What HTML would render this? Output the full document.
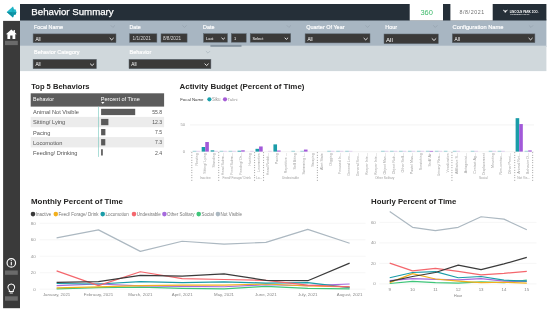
<!DOCTYPE html>
<html><head><meta charset="utf-8"><title>Behavior Summary</title>
<style>
html,body{margin:0;padding:0;}
body{width:550px;height:312px;position:relative;overflow:hidden;background:#fff;font-family:"Liberation Sans",sans-serif;}
.a{position:absolute;}
.t{position:absolute;white-space:nowrap;line-height:1;}
.dd{position:absolute;background:#3b3a39;box-shadow:0 0 0 0.5px #59636c;}
svg{position:absolute;left:0;top:0;overflow:visible;filter:blur(0.3px);}
</style></head><body>

<svg width="550" height="312" viewBox="0 0 550 312" font-family='"Liberation Sans", sans-serif'>
<rect x="20" y="19" width="526.4" height="28" fill="#a8b6c2"/>
<rect x="20" y="45.7" width="526.4" height="25.4" fill="#d0d8dc"/>
<rect x="20" y="4" width="526.4" height="16.5" fill="#252f38"/>
<rect x="409.7" y="0" width="33.3" height="20.5" fill="#fff"/>
<rect x="450.4" y="0" width="42.3" height="20.5" fill="#fff"/>
<path d="M503.1 9.6 L504.4 10.4 L506.3 10.4 L507.6 9.6 L507.2 10.9 L506.3 11.2 L506 12.6 L504.7 12.6 L504.4 11.2 L503.5 10.9 Z" fill="#fff"/>
<rect x="210.4" y="44.9" width="31.1" height="1.9" fill="#8593a0"/>
<rect x="3.1" y="20.9" width="16.9" height="287.3" fill="#3a3a3a"/>
<rect x="5" y="40.8" width="12.8" height="4.3" fill="#6a6a6a"/>
<rect x="5" y="270.5" width="12.8" height="4.3" fill="#6a6a6a"/>
<rect x="5" y="296.3" width="12.8" height="4.4" fill="#6a6a6a"/>
<path d="M110.80 25.35 L112.90 27.45 L115.00 25.35" fill="none" stroke="#919eaa" stroke-width="0.65"/>
<rect x="33.1" y="33.9" width="82.9" height="8.8" fill="#3b3a39" stroke="#5d6872" stroke-width="0.5"/>
<path d="M109.70 37.95 L111.70 39.85 L113.70 37.95" fill="none" stroke="#fff" stroke-width="0.85"/>
<path d="M182.40 25.35 L184.50 27.45 L186.60 25.35" fill="none" stroke="#919eaa" stroke-width="0.65"/>
<rect x="129.6" y="33.8" width="27.3" height="8.4" fill="#3b3a39" stroke="#5d6872" stroke-width="0.5"/>
<rect x="161" y="33.8" width="26.1" height="8.4" fill="#3b3a39" stroke="#5d6872" stroke-width="0.5"/>
<path d="M286.80 25.35 L288.90 27.45 L291.00 25.35" fill="none" stroke="#919eaa" stroke-width="0.65"/>
<rect x="203.5" y="33.7" width="24.0" height="8.5" fill="#3b3a39" stroke="#5d6872" stroke-width="0.5"/>
<path d="M221.50 37.74 L223.20 39.36 L224.90 37.74" fill="none" stroke="#fff" stroke-width="0.85"/>
<rect x="231.3" y="33.7" width="14.9" height="8.5" fill="#3b3a39" stroke="#5d6872" stroke-width="0.5"/>
<rect x="250.2" y="33.7" width="40.5" height="8.5" fill="#3b3a39" stroke="#5d6872" stroke-width="0.5"/>
<path d="M284.70 37.74 L286.40 39.36 L288.10 37.74" fill="none" stroke="#fff" stroke-width="0.85"/>
<path d="M365.50 25.35 L367.60 27.45 L369.70 25.35" fill="none" stroke="#919eaa" stroke-width="0.65"/>
<rect x="305.1" y="33.8" width="64.9" height="9.1" fill="#3b3a39" stroke="#5d6872" stroke-width="0.5"/>
<path d="M363.70 38.00 L365.70 39.90 L367.70 38.00" fill="none" stroke="#fff" stroke-width="0.85"/>
<path d="M433.20 25.35 L435.30 27.45 L437.40 25.35" fill="none" stroke="#919eaa" stroke-width="0.65"/>
<rect x="384" y="34" width="54.3" height="9.7" fill="#3b3a39" stroke="#5d6872" stroke-width="0.5"/>
<path d="M431.80 38.40 L434.00 40.50 L436.20 38.40" fill="none" stroke="#fff" stroke-width="0.85"/>
<path d="M528.90 25.35 L531.00 27.45 L533.10 25.35" fill="none" stroke="#919eaa" stroke-width="0.65"/>
<rect x="452.3" y="33.9" width="82.6" height="8.8" fill="#3b3a39" stroke="#5d6872" stroke-width="0.5"/>
<path d="M528.60 37.95 L530.60 39.85 L532.60 37.95" fill="none" stroke="#fff" stroke-width="0.85"/>
<rect x="33.1" y="59.3" width="63.3" height="9.4" fill="#3b3a39" stroke="#5d6872" stroke-width="0.5"/>
<path d="M90.10 63.65 L92.10 65.55 L94.10 63.65" fill="none" stroke="#fff" stroke-width="0.85"/>
<path d="M205.90 51.05 L208.00 53.15 L210.10 51.05" fill="none" stroke="#a6b1bb" stroke-width="0.65"/>
<rect x="129" y="59.3" width="81.9" height="9.4" fill="#3b3a39" stroke="#5d6872" stroke-width="0.5"/>
<path d="M204.60 63.65 L206.60 65.55 L208.60 63.65" fill="none" stroke="#fff" stroke-width="0.85"/>
<path d="M6.7 12 L13 6.6 L13.8 9.3 L15.7 9.6 L16.4 12 L15.7 14.4 L13.8 14.7 L13 17.6 Z" fill="#22b9ca"/>
<path d="M6.7 12 L13 17.6 L13.8 14.7 L15.7 14.4 L16.4 12.2 Z" fill="#0f8fa0"/>
<path d="M13 6.6 L13.8 9.3 L13.8 14.7 L13 17.6 L11.6 12 Z" fill="#11a0b1" opacity="0.5"/>
<path d="M11.35 29.4 L5.9 34.3 L7.4 34.3 L7.4 39 L10.2 39 L10.2 35.6 L12.5 35.6 L12.5 39 L15.3 39 L15.3 34.3 L16.8 34.3 L14.9 32.6 L14.9 30 L13.6 30 L13.6 31.4 Z" fill="#fff"/>
<circle cx="11.3" cy="262.9" r="4.25" fill="none" stroke="#fff" stroke-width="1.15"/>
<rect x="10.75" y="262" width="1.1" height="3.3" fill="#fff"/><rect x="10.75" y="260.1" width="1.1" height="1.1" fill="#fff"/>
<path d="M11.3 283.9 a3.4 3.4 0 0 1 2 6.15 l0 1.5 l-4 0 l0 -1.5 a3.4 3.4 0 0 1 2 -6.15 Z" fill="none" stroke="#fff" stroke-width="1.05"/>
<path d="M9.7 293 L12.9 293" stroke="#fff" stroke-width="0.9"/>
<rect x="30.7" y="93.3" width="133.4" height="13.3" fill="#5c5c5c"/>
<path d="M101.1 102 L104.5 102 L102.8 104.1 Z" fill="#fff"/>
<rect x="101.1" y="108.8" width="34.1" height="6.3" fill="#5a5a5a"/>
<rect x="30.7" y="116.9" width="133.4" height="10.299999999999999" fill="#ececec"/>
<rect x="101.1" y="118.9" width="7.3" height="6.3" fill="#5a5a5a"/>
<rect x="101.1" y="129.0" width="4.3" height="6.3" fill="#5a5a5a"/>
<rect x="30.7" y="137.1" width="133.4" height="10.299999999999999" fill="#ececec"/>
<rect x="101.1" y="139.1" width="4.2" height="6.3" fill="#5a5a5a"/>
<rect x="101.1" y="149.2" width="1.7" height="6.3" fill="#5a5a5a"/>
<rect x="98.1" y="106.6" width="0.6" height="50.3" fill="#74c8be"/>
<circle cx="209.4" cy="99.3" r="2.1" fill="#1aa0ab"/>
<circle cx="225" cy="99.3" r="2.1" fill="#a55cd6"/>
<path d="M190 124.9 H534 M190 151.7 H534" stroke="#e6e6e6" stroke-width="0.5"/>
<rect x="192.70" y="150.80" width="3.6" height="0.80" fill="#1a9ca8" opacity="0.5"/>
<rect x="196.30" y="150.80" width="3.6" height="0.80" fill="#a259d9" opacity="0.3"/>
<text transform="translate(197.50 153.2) rotate(-90)" text-anchor="end" font-size="3.6" fill="#a0a0a0">Resting</text>
<rect x="201.67" y="147.00" width="3.6" height="4.60" fill="#1a9ca8" opacity="1"/>
<rect x="205.27" y="142.02" width="3.6" height="9.58" fill="#a259d9" opacity="1"/>
<text transform="translate(206.47 153.2) rotate(-90)" text-anchor="end" font-size="3.6" fill="#a0a0a0">Sitting/ Lying</text>
<rect x="210.64" y="150.32" width="3.6" height="1.28" fill="#1a9ca8" opacity="1"/>
<rect x="214.24" y="150.80" width="3.6" height="0.80" fill="#a259d9" opacity="0.3"/>
<text transform="translate(215.44 153.2) rotate(-90)" text-anchor="end" font-size="3.6" fill="#a0a0a0">Standing</text>
<rect x="219.61" y="150.80" width="3.6" height="0.80" fill="#1a9ca8" opacity="0.5"/>
<rect x="223.21" y="150.80" width="3.6" height="0.80" fill="#a259d9" opacity="0.3"/>
<text transform="translate(224.41 153.2) rotate(-90)" text-anchor="end" font-size="3.6" fill="#a0a0a0">Head Subm...</text>
<rect x="228.58" y="150.80" width="3.6" height="0.80" fill="#1a9ca8" opacity="0.5"/>
<rect x="232.18" y="150.80" width="3.6" height="0.80" fill="#a259d9" opacity="0.3"/>
<text transform="translate(233.38 153.2) rotate(-90)" text-anchor="end" font-size="3.6" fill="#a0a0a0">Food Subm...</text>
<rect x="237.55" y="150.74" width="3.6" height="0.86" fill="#1a9ca8" opacity="1"/>
<rect x="241.15" y="150.32" width="3.6" height="1.28" fill="#a259d9" opacity="1"/>
<text transform="translate(242.35 153.2) rotate(-90)" text-anchor="end" font-size="3.6" fill="#a0a0a0">Feeding/ Dr...</text>
<rect x="250.12" y="150.80" width="3.6" height="0.80" fill="#a259d9" opacity="0.3"/>
<text transform="translate(251.32 153.2) rotate(-90)" text-anchor="end" font-size="3.6" fill="#a0a0a0">Hunting</text>
<rect x="255.49" y="148.82" width="3.6" height="2.78" fill="#1a9ca8" opacity="1"/>
<rect x="259.09" y="146.46" width="3.6" height="5.14" fill="#a259d9" opacity="1"/>
<text transform="translate(260.29 153.2) rotate(-90)" text-anchor="end" font-size="3.6" fill="#a0a0a0">Locomotion</text>
<rect x="268.06" y="150.80" width="3.6" height="0.80" fill="#a259d9" opacity="0.3"/>
<text transform="translate(269.26 153.2) rotate(-90)" text-anchor="end" font-size="3.6" fill="#a0a0a0">Head Noddi...</text>
<rect x="273.43" y="144.38" width="3.6" height="7.22" fill="#1a9ca8" opacity="1"/>
<rect x="277.03" y="150.53" width="3.6" height="1.07" fill="#a259d9" opacity="1"/>
<text transform="translate(278.23 153.2) rotate(-90)" text-anchor="end" font-size="3.6" fill="#a0a0a0">Pacing</text>
<text transform="translate(287.20 153.2) rotate(-90)" text-anchor="end" font-size="3.6" fill="#a0a0a0">Repetitive ...</text>
<rect x="291.37" y="150.80" width="3.6" height="0.80" fill="#1a9ca8" opacity="0.5"/>
<text transform="translate(296.17 153.2) rotate(-90)" text-anchor="end" font-size="3.6" fill="#a0a0a0">Self Biting</text>
<rect x="300.34" y="150.80" width="3.6" height="0.80" fill="#1a9ca8" opacity="0.5"/>
<rect x="303.94" y="149.57" width="3.6" height="2.03" fill="#a259d9" opacity="1"/>
<text transform="translate(305.14 153.2) rotate(-90)" text-anchor="end" font-size="3.6" fill="#a0a0a0">Swimming i...</text>
<text transform="translate(314.11 153.2) rotate(-90)" text-anchor="end" font-size="3.6" fill="#a0a0a0">Swaying</text>
<text transform="translate(323.08 153.2) rotate(-90)" text-anchor="end" font-size="3.6" fill="#a0a0a0">Alert State</text>
<rect x="327.25" y="150.80" width="3.6" height="0.80" fill="#1a9ca8" opacity="0.5"/>
<rect x="330.85" y="150.80" width="3.6" height="0.80" fill="#a259d9" opacity="0.3"/>
<text transform="translate(332.05 153.2) rotate(-90)" text-anchor="end" font-size="3.6" fill="#a0a0a0">Digging</text>
<rect x="336.22" y="150.80" width="3.6" height="0.80" fill="#1a9ca8" opacity="0.5"/>
<rect x="339.82" y="150.80" width="3.6" height="0.80" fill="#a259d9" opacity="0.3"/>
<text transform="translate(341.02 153.2) rotate(-90)" text-anchor="end" font-size="3.6" fill="#a0a0a0">Focused In...</text>
<rect x="345.19" y="150.80" width="3.6" height="0.80" fill="#1a9ca8" opacity="0.5"/>
<rect x="348.79" y="150.80" width="3.6" height="0.80" fill="#a259d9" opacity="0.3"/>
<text transform="translate(349.99 153.2) rotate(-90)" text-anchor="end" font-size="3.6" fill="#a0a0a0">General Loc...</text>
<text transform="translate(358.96 153.2) rotate(-90)" text-anchor="end" font-size="3.6" fill="#a0a0a0">General Soc...</text>
<text transform="translate(367.93 153.2) rotate(-90)" text-anchor="end" font-size="3.6" fill="#a0a0a0">Keeper Inte...</text>
<text transform="translate(376.90 153.2) rotate(-90)" text-anchor="end" font-size="3.6" fill="#a0a0a0">Keeper Inte...</text>
<rect x="381.07" y="150.80" width="3.6" height="0.80" fill="#1a9ca8" opacity="0.5"/>
<rect x="384.67" y="150.80" width="3.6" height="0.80" fill="#a259d9" opacity="0.3"/>
<text transform="translate(385.87 153.2) rotate(-90)" text-anchor="end" font-size="3.6" fill="#a0a0a0">Object Man...</text>
<rect x="390.04" y="150.80" width="3.6" height="0.80" fill="#1a9ca8" opacity="0.5"/>
<rect x="393.64" y="150.80" width="3.6" height="0.80" fill="#a259d9" opacity="0.3"/>
<text transform="translate(394.84 153.2) rotate(-90)" text-anchor="end" font-size="3.6" fill="#a0a0a0">Object Rub...</text>
<rect x="399.01" y="150.80" width="3.6" height="0.80" fill="#1a9ca8" opacity="0.5"/>
<rect x="402.61" y="150.80" width="3.6" height="0.80" fill="#a259d9" opacity="0.3"/>
<text transform="translate(403.81 153.2) rotate(-90)" text-anchor="end" font-size="3.6" fill="#a0a0a0">Other Self...</text>
<rect x="407.98" y="150.80" width="3.6" height="0.80" fill="#1a9ca8" opacity="0.5"/>
<rect x="411.58" y="150.80" width="3.6" height="0.80" fill="#a259d9" opacity="0.3"/>
<text transform="translate(412.78 153.2) rotate(-90)" text-anchor="end" font-size="3.6" fill="#a0a0a0">Paste/ Mas...</text>
<rect x="416.95" y="150.80" width="3.6" height="0.80" fill="#1a9ca8" opacity="0.5"/>
<rect x="420.55" y="150.80" width="3.6" height="0.80" fill="#a259d9" opacity="0.3"/>
<text transform="translate(421.75 153.2) rotate(-90)" text-anchor="end" font-size="3.6" fill="#a0a0a0">Scratching</text>
<rect x="425.92" y="150.80" width="3.6" height="0.80" fill="#1a9ca8" opacity="0.5"/>
<rect x="429.52" y="150.90" width="3.6" height="0.70" fill="#a259d9" opacity="1"/>
<text transform="translate(430.72 153.2) rotate(-90)" text-anchor="end" font-size="3.6" fill="#a0a0a0">Sniff/ Air</text>
<rect x="434.89" y="150.80" width="3.6" height="0.80" fill="#1a9ca8" opacity="0.5"/>
<rect x="438.49" y="150.80" width="3.6" height="0.80" fill="#a259d9" opacity="0.3"/>
<text transform="translate(439.69 153.2) rotate(-90)" text-anchor="end" font-size="3.6" fill="#a0a0a0">Urinary/ Rea...</text>
<rect x="443.86" y="150.80" width="3.6" height="0.80" fill="#1a9ca8" opacity="0.5"/>
<text transform="translate(448.66 153.2) rotate(-90)" text-anchor="end" font-size="3.6" fill="#a0a0a0">Vocalization</text>
<rect x="452.83" y="150.80" width="3.6" height="0.80" fill="#1a9ca8" opacity="0.5"/>
<rect x="456.43" y="150.80" width="3.6" height="0.80" fill="#a259d9" opacity="0.3"/>
<text transform="translate(457.63 153.2) rotate(-90)" text-anchor="end" font-size="3.6" fill="#a0a0a0">Affiliative S...</text>
<text transform="translate(466.60 153.2) rotate(-90)" text-anchor="end" font-size="3.6" fill="#a0a0a0">Antagonist...</text>
<rect x="470.77" y="150.80" width="3.6" height="0.80" fill="#1a9ca8" opacity="0.5"/>
<rect x="474.37" y="150.80" width="3.6" height="0.80" fill="#a259d9" opacity="0.3"/>
<text transform="translate(475.57 153.2) rotate(-90)" text-anchor="end" font-size="3.6" fill="#a0a0a0">Contact Ag...</text>
<text transform="translate(484.54 153.2) rotate(-90)" text-anchor="end" font-size="3.6" fill="#a0a0a0">Displacement</text>
<rect x="488.71" y="150.80" width="3.6" height="0.80" fill="#1a9ca8" opacity="0.5"/>
<rect x="492.31" y="150.80" width="3.6" height="0.80" fill="#a259d9" opacity="0.3"/>
<text transform="translate(493.51 153.2) rotate(-90)" text-anchor="end" font-size="3.6" fill="#a0a0a0">Mounting</text>
<rect x="497.68" y="150.80" width="3.6" height="0.80" fill="#1a9ca8" opacity="0.5"/>
<rect x="501.28" y="150.80" width="3.6" height="0.80" fill="#a259d9" opacity="0.3"/>
<text transform="translate(502.48 153.2) rotate(-90)" text-anchor="end" font-size="3.6" fill="#a0a0a0">Non-contac...</text>
<text transform="translate(511.45 153.2) rotate(-90)" text-anchor="end" font-size="3.6" fill="#a0a0a0">Other Proxi...</text>
<rect x="515.62" y="118.16" width="3.6" height="33.44" fill="#1a9ca8" opacity="1"/>
<rect x="519.22" y="124.05" width="3.6" height="27.55" fill="#a259d9" opacity="1"/>
<text transform="translate(520.42 153.2) rotate(-90)" text-anchor="end" font-size="3.6" fill="#a0a0a0">Animal Not...</text>
<rect x="524.59" y="150.80" width="3.6" height="0.80" fill="#1a9ca8" opacity="0.5"/>
<rect x="528.19" y="150.42" width="3.6" height="1.18" fill="#a259d9" opacity="1"/>
<text transform="translate(529.39 153.2) rotate(-90)" text-anchor="end" font-size="3.6" fill="#a0a0a0">Behavior D...</text>
<text x="205.25" y="179.4" text-anchor="middle" font-size="3.2" fill="#a0a0a0">Inactive</text>
<text x="236.65" y="179.4" text-anchor="middle" font-size="3.2" fill="#a0a0a0">Feed/ Forage/ Drink</text>
<text x="259.08" y="179.4" text-anchor="middle" font-size="3.2" fill="#a0a0a0">Lo...</text>
<text x="290.47" y="179.4" text-anchor="middle" font-size="3.2" fill="#a0a0a0">Undesirable</text>
<text x="384.65" y="179.4" text-anchor="middle" font-size="3.2" fill="#a0a0a0">Other Solitary</text>
<text x="483.33" y="179.4" text-anchor="middle" font-size="3.2" fill="#a0a0a0">Social</text>
<text x="523.69" y="179.4" text-anchor="middle" font-size="3.2" fill="#a0a0a0">Not Vis...</text>
<path d="M191.80 152.4 V182" stroke="#444" stroke-width="0.7" stroke-dasharray="0.7 1.8"/>
<path d="M218.71 152.4 V182" stroke="#444" stroke-width="0.7" stroke-dasharray="0.7 1.8"/>
<path d="M254.59 152.4 V182" stroke="#444" stroke-width="0.7" stroke-dasharray="0.7 1.8"/>
<path d="M263.56 152.4 V182" stroke="#444" stroke-width="0.7" stroke-dasharray="0.7 1.8"/>
<path d="M317.38 152.4 V182" stroke="#444" stroke-width="0.7" stroke-dasharray="0.7 1.8"/>
<path d="M451.93 152.4 V182" stroke="#444" stroke-width="0.7" stroke-dasharray="0.7 1.8"/>
<path d="M514.72 152.4 V182" stroke="#444" stroke-width="0.7" stroke-dasharray="0.7 1.8"/>
<path d="M532.66 152.4 V182" stroke="#444" stroke-width="0.7" stroke-dasharray="0.7 1.8"/>
<circle cx="33" cy="214.1" r="2.3" fill="#3a3a3a"/>
<circle cx="55.8" cy="214.1" r="2.3" fill="#f2b01e"/>
<circle cx="102.7" cy="214.1" r="2.3" fill="#1a9ca8"/>
<circle cx="134" cy="214.1" r="2.3" fill="#f4676d"/>
<circle cx="164.4" cy="214.1" r="2.3" fill="#a66add"/>
<circle cx="198.7" cy="214.1" r="2.3" fill="#3fc57a"/>
<circle cx="217.9" cy="214.1" r="2.3" fill="#acb8c1"/>
<path d="M39.7 289.20 H365.5" stroke="#ececec" stroke-width="0.5"/>
<path d="M39.7 272.72 H365.5" stroke="#ececec" stroke-width="0.5"/>
<path d="M39.7 256.24 H365.5" stroke="#ececec" stroke-width="0.5"/>
<path d="M39.7 239.76 H365.5" stroke="#ececec" stroke-width="0.5"/>
<path d="M39.7 223.28 H365.5" stroke="#ececec" stroke-width="0.5"/>
<text x="56.60" y="295.6" text-anchor="middle" font-size="4.37" fill="#888">January, 2021</text>
<text x="98.46" y="295.6" text-anchor="middle" font-size="4.37" fill="#888">February, 2021</text>
<text x="140.32" y="295.6" text-anchor="middle" font-size="4.37" fill="#888">March, 2021</text>
<text x="182.18" y="295.6" text-anchor="middle" font-size="4.37" fill="#888">April, 2021</text>
<text x="224.04" y="295.6" text-anchor="middle" font-size="4.37" fill="#888">May, 2021</text>
<text x="265.90" y="295.6" text-anchor="middle" font-size="4.37" fill="#888">June, 2021</text>
<text x="307.76" y="295.6" text-anchor="middle" font-size="4.37" fill="#888">July, 2021</text>
<text x="349.62" y="295.6" text-anchor="middle" font-size="4.37" fill="#888">August, 2021</text>
<polyline points="56.60,237.95 98.46,229.87 140.32,251.38 182.18,241.24 224.04,244.04 265.90,242.40 307.76,229.38 349.62,243.22" fill="none" stroke="#acb8c1" stroke-width="1.2" stroke-linejoin="round"/>
<polyline points="56.60,288.79 98.46,287.55 140.32,287.22 182.18,288.38 224.04,288.79 265.90,286.40 307.76,288.38 349.62,288.79" fill="none" stroke="#3fc57a" stroke-width="1.2" stroke-linejoin="round"/>
<polyline points="56.60,285.57 98.46,284.01 140.32,285.90 182.18,286.40 224.04,286.73 265.90,284.75 307.76,285.57 349.62,284.01" fill="none" stroke="#a66add" stroke-width="1.2" stroke-linejoin="round"/>
<polyline points="56.60,287.96 98.46,286.81 140.32,285.57 182.18,285.16 224.04,285.16 265.90,284.01 307.76,285.99 349.62,286.81" fill="none" stroke="#f2b01e" stroke-width="1.2" stroke-linejoin="round"/>
<polyline points="56.60,283.51 98.46,284.01 140.32,281.54 182.18,282.69 224.04,281.87 265.90,283.10 307.76,282.69 349.62,287.63" fill="none" stroke="#1a9ca8" stroke-width="1.2" stroke-linejoin="round"/>
<polyline points="56.60,270.91 98.46,285.57 140.32,271.73 182.18,278.65 224.04,279.48 265.90,280.30 307.76,285.16 349.62,286.81" fill="none" stroke="#f4676d" stroke-width="1.2" stroke-linejoin="round"/>
<polyline points="56.60,282.28 98.46,281.54 140.32,275.44 182.18,276.18 224.04,273.79 265.90,280.30 307.76,280.71 349.62,263.16" fill="none" stroke="#3a3a3a" stroke-width="1.2" stroke-linejoin="round"/>
<path d="M379.4 283.90 H536.5" stroke="#ececec" stroke-width="0.5"/>
<path d="M379.4 263.40 H536.5" stroke="#ececec" stroke-width="0.5"/>
<path d="M379.4 242.90 H536.5" stroke="#ececec" stroke-width="0.5"/>
<path d="M379.4 222.40 H536.5" stroke="#ececec" stroke-width="0.5"/>
<text x="389.70" y="291.2" text-anchor="middle" font-size="4.37" fill="#888">9</text>
<text x="412.55" y="291.2" text-anchor="middle" font-size="4.37" fill="#888">10</text>
<text x="435.40" y="291.2" text-anchor="middle" font-size="4.37" fill="#888">11</text>
<text x="458.25" y="291.2" text-anchor="middle" font-size="4.37" fill="#888">12</text>
<text x="481.10" y="291.2" text-anchor="middle" font-size="4.37" fill="#888">13</text>
<text x="503.95" y="291.2" text-anchor="middle" font-size="4.37" fill="#888">14</text>
<text x="526.80" y="291.2" text-anchor="middle" font-size="4.37" fill="#888">15</text>
<text x="458" y="297" text-anchor="middle" font-size="3.6" fill="#777">Hour</text>
<polyline points="389.70,211.43 412.55,227.32 435.40,230.60 458.25,227.32 481.10,216.76 503.95,219.12 526.80,229.78" fill="none" stroke="#acb8c1" stroke-width="1.2" stroke-linejoin="round"/>
<polyline points="389.70,283.49 412.55,281.44 435.40,282.67 458.25,283.08 481.10,281.85 503.95,282.67 526.80,280.21" fill="none" stroke="#3fc57a" stroke-width="1.2" stroke-linejoin="round"/>
<polyline points="389.70,280.62 412.55,278.57 435.40,279.39 458.25,279.80 481.10,278.57 503.95,281.03 526.80,281.44" fill="none" stroke="#a66add" stroke-width="1.2" stroke-linejoin="round"/>
<polyline points="389.70,282.67 412.55,273.65 435.40,278.98 458.25,281.03 481.10,282.67 503.95,282.26 526.80,283.08" fill="none" stroke="#f2b01e" stroke-width="1.2" stroke-linejoin="round"/>
<polyline points="389.70,277.75 412.55,272.52 435.40,271.70 458.25,277.75 481.10,276.52 503.95,280.21 526.80,281.03" fill="none" stroke="#1a9ca8" stroke-width="1.2" stroke-linejoin="round"/>
<polyline points="389.70,263.09 412.55,270.88 435.40,268.42 458.25,271.29 481.10,274.88 503.95,273.34 526.80,271.29" fill="none" stroke="#f4676d" stroke-width="1.2" stroke-linejoin="round"/>
<polyline points="389.70,281.44 412.55,276.52 435.40,272.52 458.25,265.14 481.10,269.65 503.95,263.91 526.80,257.45" fill="none" stroke="#3a3a3a" stroke-width="1.2" stroke-linejoin="round"/>
<text x="31.30" y="15" font-size="9.7" fill="#fff" stroke="#fff" stroke-width="0.25">Behavior Summary</text>
<text x="420.40" y="15" font-size="7.49" fill="#3fba6c">360</text>
<text x="459.40" y="14" font-size="5.3" fill="#707070" letter-spacing="0.6">8/8/2021</text>
<text transform="translate(509.8 12.5) scale(0.68 1)" font-size="4" font-weight="bold" fill="#fff" letter-spacing="0.1">LINCOLN PARK ZOO.</text>
<text transform="translate(510.3 15.2) scale(0.8 1)" font-size="2" font-weight="bold" fill="#fff">FOR WILDLIFE. FOR ALL.</text>
<text x="34.00" y="29" font-size="5.36" fill="#fff" stroke="#fff" stroke-width="0.18">Focal Name</text>
<text x="35.40" y="41" font-size="4.7" fill="#fff">All</text>
<text x="129.50" y="29" font-size="5.3" fill="#fff" stroke="#fff" stroke-width="0.18">Date</text>
<text x="132.60" y="40" font-size="4.7" fill="#d8d8d8">1/1/2021</text>
<text x="162.90" y="40" font-size="4.7" fill="#d8d8d8">8/8/2021</text>
<text x="203.10" y="29" font-size="5.4" fill="#fff" stroke="#fff" stroke-width="0.18">Date</text>
<text x="206.10" y="40" font-size="3.9" fill="#fff">Last</text>
<text x="233.90" y="40" font-size="3.9" fill="#fff">1</text>
<text x="252.50" y="40" font-size="3.9" fill="#fff">Select</text>
<text x="306.20" y="29" font-size="5.47" fill="#fff" stroke="#fff" stroke-width="0.18">Quarter Of Year</text>
<text x="307.40" y="41" font-size="4.7" fill="#fff">All</text>
<text x="385.20" y="29" font-size="5.49" fill="#fff" stroke="#fff" stroke-width="0.18">Hour</text>
<text x="385.90" y="42" font-size="6.2" fill="#fff">All</text>
<text x="452.60" y="29" font-size="5.73" fill="#fff" stroke="#fff" stroke-width="0.18">Configuration Name</text>
<text x="454.60" y="41" font-size="4.7" fill="#fff">All</text>
<text x="34.00" y="54" font-size="5.51" fill="#fff" stroke="#fff" stroke-width="0.18">Behavior Category</text>
<text x="35.40" y="66" font-size="4.7" fill="#fff">All</text>
<text x="129.50" y="54" font-size="5.52" fill="#fff" stroke="#fff" stroke-width="0.18">Behavior</text>
<text x="131.30" y="66" font-size="4.7" fill="#fff">All</text>
<text x="31.20" y="89" font-size="7.59" fill="#252423" font-weight="bold">Top 5 Behaviors</text>
<text x="33.10" y="101" font-size="5.32" fill="#fff">Behavior</text>
<text x="100.80" y="101" font-size="5.57" fill="#fff">Percent of Time</text>
<text x="33.10" y="114" font-size="5.67" fill="#555">Animal Not Visible</text>
<text x="162.20" y="114" font-size="5.1" fill="#555" text-anchor="end">55.8</text>
<text x="33.10" y="124" font-size="5.67" fill="#555">Sitting/ Lying</text>
<text x="162.20" y="124" font-size="5.1" fill="#555" text-anchor="end">12.3</text>
<text x="33.10" y="135" font-size="5.67" fill="#555">Pacing</text>
<text x="162.20" y="134" font-size="5.1" fill="#555" text-anchor="end">7.5</text>
<text x="33.10" y="145" font-size="5.67" fill="#555">Locomotion</text>
<text x="162.20" y="144" font-size="5.1" fill="#555" text-anchor="end">7.3</text>
<text x="33.10" y="155" font-size="5.67" fill="#555">Feeding/ Drinking</text>
<text x="162.20" y="155" font-size="5.1" fill="#555" text-anchor="end">2.4</text>
<text x="179.60" y="89" font-size="7.93" fill="#252423" font-weight="bold">Activity Budget (Percent of Time)</text>
<text x="180.20" y="101" font-size="4.34" fill="#3a3a3a">Focal Name</text>
<text x="211.90" y="101" font-size="4.47" fill="#999">Siku</text>
<text x="227.60" y="101" font-size="4.39" fill="#999">Talini</text>
<text x="185.20" y="126" font-size="4.3" fill="#999" text-anchor="end">50</text>
<text x="185.20" y="153" font-size="4.3" fill="#999" text-anchor="end">0</text>
<text x="31.00" y="204" font-size="7.93" fill="#252423" font-weight="bold">Monthly Percent of Time</text>
<text x="35.70" y="216" font-size="4.5" fill="#777">Inactive</text>
<text x="58.50" y="216" font-size="4.5" fill="#777">Feed/ Forage/ Drink</text>
<text x="105.40" y="216" font-size="4.5" fill="#777">Locomotion</text>
<text x="136.70" y="216" font-size="4.5" fill="#777">Undesirable</text>
<text x="167.10" y="216" font-size="4.5" fill="#777">Other Solitary</text>
<text x="201.40" y="216" font-size="4.5" fill="#777">Social</text>
<text x="220.60" y="216" font-size="4.5" fill="#777">Not Visible</text>
<text x="35.60" y="291" font-size="4.4" fill="#909090" text-anchor="end">0</text>
<text x="35.60" y="274" font-size="4.4" fill="#909090" text-anchor="end">20</text>
<text x="35.60" y="258" font-size="4.4" fill="#909090" text-anchor="end">40</text>
<text x="35.60" y="241" font-size="4.4" fill="#909090" text-anchor="end">60</text>
<text x="35.60" y="225" font-size="4.4" fill="#909090" text-anchor="end">80</text>
<text x="371.00" y="204" font-size="7.82" fill="#252423" font-weight="bold">Hourly Percent of Time</text>
<text x="375.80" y="285" font-size="4.4" fill="#909090" text-anchor="end">0</text>
<text x="375.80" y="265" font-size="4.4" fill="#909090" text-anchor="end">20</text>
<text x="375.80" y="244" font-size="4.4" fill="#909090" text-anchor="end">40</text>
<text x="375.80" y="224" font-size="4.4" fill="#909090" text-anchor="end">60</text>
</svg>
</body></html>
